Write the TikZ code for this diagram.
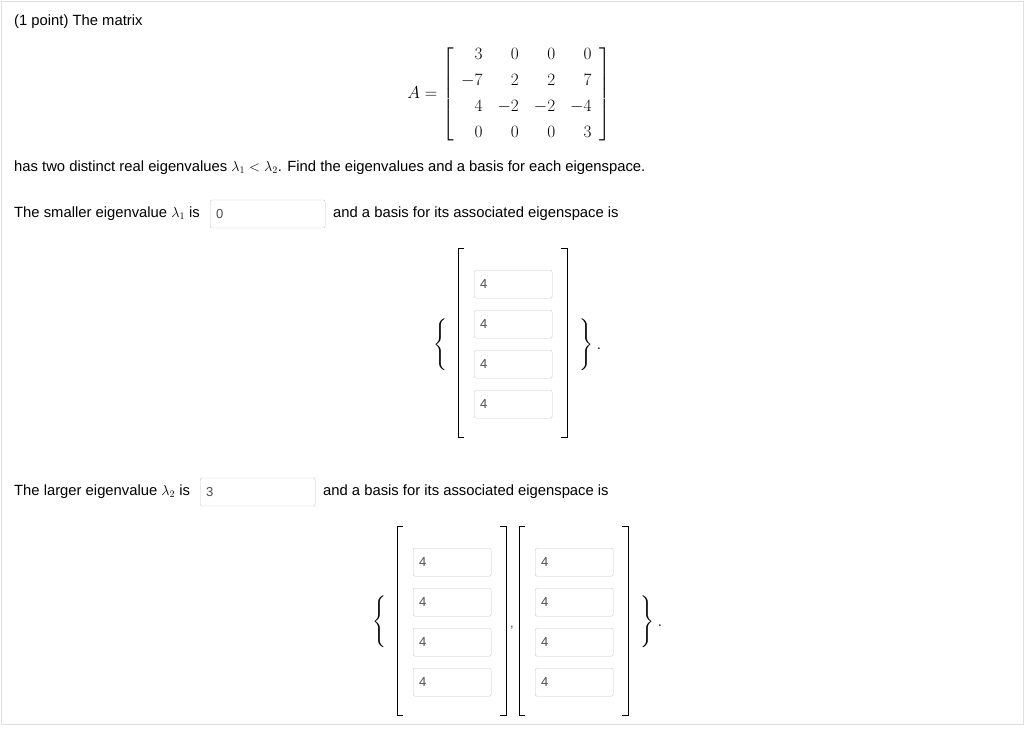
\documentclass[tikz,border=0pt]{standalone}
\usepackage{fontspec}
\usepackage{amsmath}
\newfontfamily\uifont{Liberation Sans}
\usetikzlibrary{positioning,calc}
\newcommand{\vecbox}[3]{% name, left x, top y
	\draw[thick] (#2+6,#3)--(#2,#3)--(#2,#3+189)--(#2+6,#3+189);
	\draw[thick] (#2+103,#3)--(#2+109,#3)--(#2+109,#3+189)--(#2+103,#3+189);
	\foreach \k in {1,...,4}{%
		\node[inbox,minimum width=78pt,anchor=north west] (#1\k) at (#2+16,#3+22+40*\k-40) {4};
	}}
\begin{document}
\begin{tikzpicture}[x=1pt,y=-1pt,
		ui/.style={font=\uifont\fontsize{14.8}{17}\selectfont,inner sep=0pt,anchor=west},
		inbox/.style={draw=gray!45,rounded corners=2pt,minimum height=28pt,inner sep=0pt,text width=66pt,align=left,font=\uifont\fontsize{13}{15}\selectfont\color{black!70}}]
	\useasboundingbox (0,0) rectangle (1024,728);
	\draw[gray!25] (1,1) rectangle (1023,724);
	\node[ui] (title) at (14,22) {(1 point) The matrix};
	% the matrix
	\node[font=\fontsize{17}{20}\selectfont,inner sep=0pt] (mat) at (509,94) {$\setlength{\arraycolsep}{7.5pt}A=\left[\begin{array}{rrrr}
		3 & 0 & 0 & 0\\[6pt] -7 & 2 & 2 & 7\\[6pt] 4 & -2 & -2 & -4\\[6pt] 0 & 0 & 0 & 3\end{array}\right]$};
	\node[ui] (intro) at (14,168) {has two distinct real eigenvalues $\lambda_1<\lambda_2$. Find the eigenvalues and a basis for each eigenspace.};
	% smaller eigenvalue
	\node[ui] (small) at (14,214) {The smaller eigenvalue $\lambda_1$ is};
	\node[inbox,minimum width=115pt,text width=103pt,anchor=west] (lamone) at (210,214) {0};
	\node[ui] (basisone) at (333,214) {and a basis for its associated eigenspace is};
	\vecbox{va}{458}{248}
	\node[font=\fontsize{17}{20}\selectfont,inner sep=0pt] (lbrace1) at (441,345) {$\left\{\rule{0pt}{28pt}\right.$};
	\node[font=\fontsize{17}{20}\selectfont,inner sep=0pt] (rbrace1) at (590,345) {$\left.\rule{0pt}{28pt}\right\}.$};
	% larger eigenvalue
	\node[ui] (large) at (14,492) {The larger eigenvalue $\lambda_2$ is};
	\node[inbox,minimum width=115pt,text width=103pt,anchor=west] (lamtwo) at (200,492) {3};
	\node[ui] (basistwo) at (323,492) {and a basis for its associated eigenspace is};
	\vecbox{vb}{397}{526}
	\vecbox{vc}{519}{526}
	\node[inbox,draw=none,text width=4pt] (comma) at (512,628) {,};
	\node[font=\fontsize{17}{20}\selectfont,inner sep=0pt] (lbrace2) at (380,622) {$\left\{\rule{0pt}{28pt}\right.$};
	\node[font=\fontsize{17}{20}\selectfont,inner sep=0pt] (rbrace2) at (651,622) {$\left.\rule{0pt}{28pt}\right\}.$};
\end{tikzpicture}
\end{document}
